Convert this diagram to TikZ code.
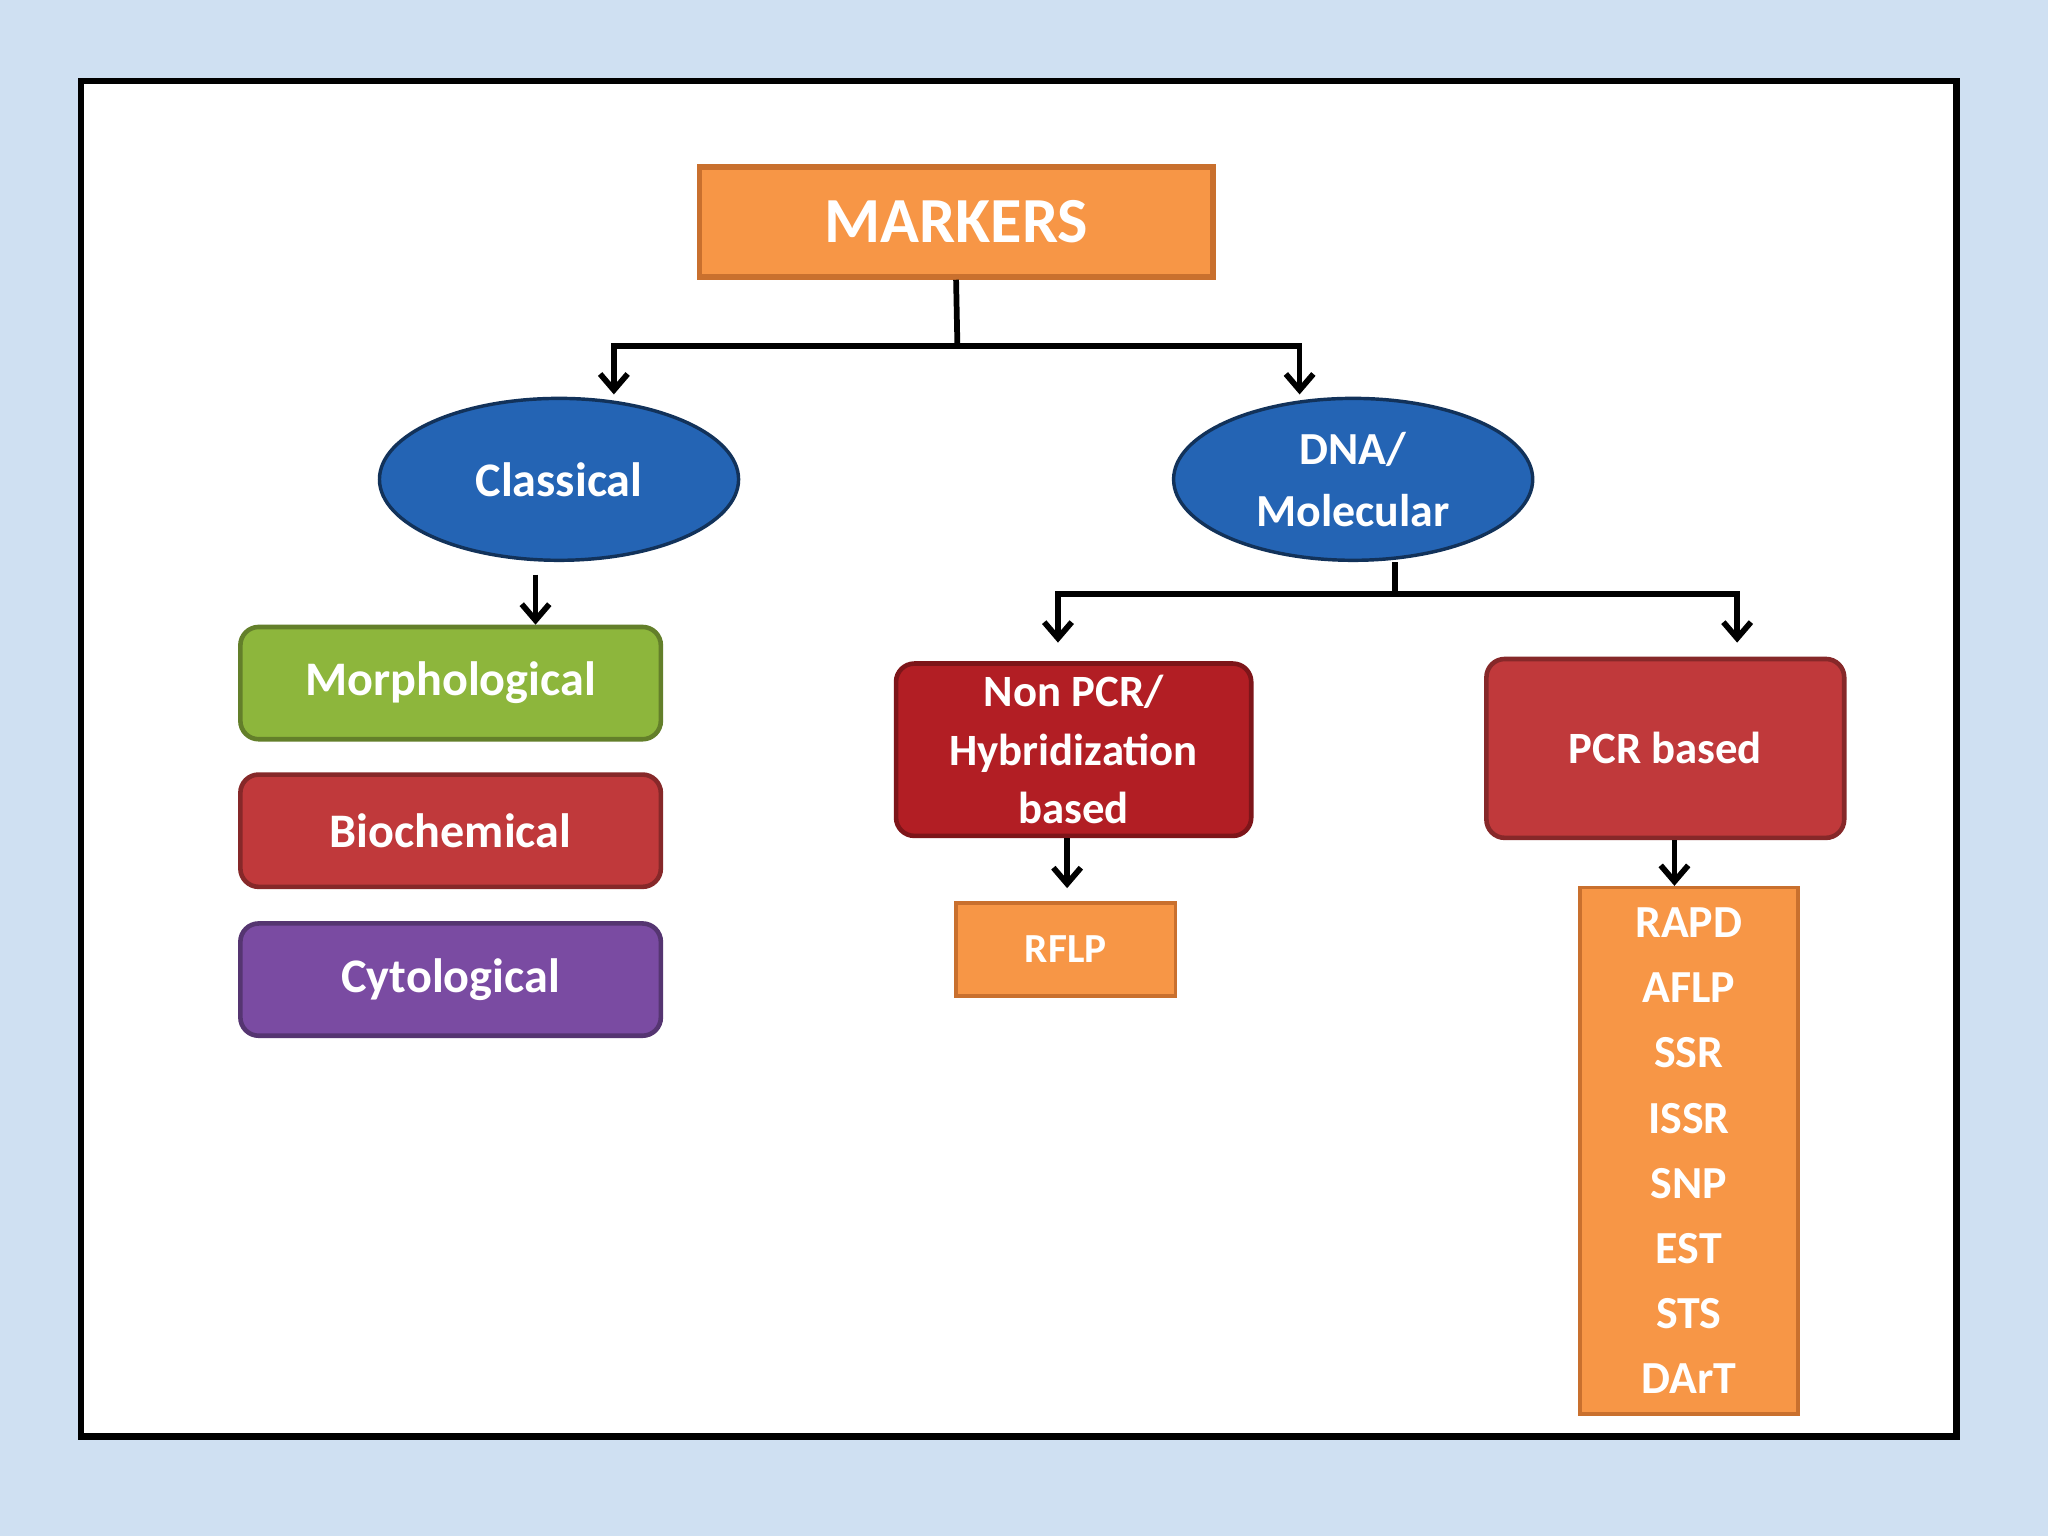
\documentclass[tikz,border=0pt]{standalone}
\usepackage{fontspec}
\setmainfont{Carlito}
\usetikzlibrary{shapes.geometric,arrows.meta}
\definecolor{bgblue}{HTML}{CFE0F2}
\definecolor{org}{HTML}{F79646}
\definecolor{orgd}{HTML}{C9702E}
\definecolor{blu}{HTML}{2464B4}
\definecolor{grn}{HTML}{8DB63C}
\definecolor{rd}{HTML}{C0393B}
\definecolor{rdd}{HTML}{B21E24}
\definecolor{pur}{HTML}{7A4BA2}
\begin{document}
\begin{tikzpicture}[x=0.02cm,y=-0.02cm,
 lbl/.style={text=white,font=\bfseries,inner sep=2pt},
 box/.style={lbl,draw=#1!70!black,line width=2pt,fill=#1,rounded corners=8pt,minimum width=6.44cm,minimum height=1.72cm,font=\bfseries\fontsize{21}{25}\selectfont},
 oval/.style={lbl,ellipse,draw=blu!50!black,line width=1.5pt,fill=blu,minimum width=5.5cm,minimum height=2.48cm,font=\bfseries\fontsize{21}{25}\selectfont,align=center},
 con/.style={line width=2.5pt},
 arr/.style={con,-{Straight Barb[length=7pt,width=12pt,line width=2.5pt]}}]
\useasboundingbox (0,0) rectangle (1568,1176);
\fill[bgblue] (0,0) rectangle (1568,1176);
\draw[line width=3pt,fill=white] (62,62) rectangle (1498,1100);
\node[lbl,draw=orgd,line width=2.5pt,fill=org,minimum width=7.86cm,minimum height=1.68cm,font=\bfseries\fontsize{28}{32}\selectfont] (M) at (732,170) {MARKERS};
\node[oval] (C) at (428,367) {Classical};
\node[oval,font=\bfseries\fontsize{20}{27}\selectfont] (D) at (1036,367) {DNA/\\Molecular};
\node[box=grn] (Mo) at (345,523) {Morphological};
\node[box=rd] (B) at (345,636) {Biochemical};
\node[box=pur] (Cy) at (345,750) {Cytological};
\node[box=rdd,minimum width=5.44cm,minimum height=2.64cm,align=center,font=\bfseries\fontsize{19.5}{25.5}\selectfont] (N) at (822,574) {Non PCR/\\Hybridization\\based};
\node[box=rd,minimum width=5.48cm,minimum height=2.74cm,font=\bfseries\fontsize{19.5}{24}\selectfont] (P) at (1275,573) {PCR based};
\node[lbl,draw=orgd,line width=1.5pt,fill=org,minimum width=3.36cm,minimum height=1.42cm,font=\bfseries\fontsize{18}{22}\selectfont] (R) at (816,727) {RFLP};
\node[lbl,draw=orgd,line width=1.5pt,fill=org,minimum width=3.34cm,minimum height=8.06cm,align=center,font=\bfseries\fontsize{20}{28.4}\selectfont] (L) at (1293,881) {RAPD\\AFLP\\SSR\\ISSR\\SNP\\EST\\STS\\DArT};
\coordinate (j1) at (733,265);
\coordinate (j2) at (1068,455);
\draw[con] (M.south) -- (j1);
\draw[arr] (j1) -| (470,302);
\draw[arr] (j1) -| (995,302);
\draw[arr] (410,440) -- (Mo.north -| 410,0);
\draw[con] (D.south -| j2) -- (j2);
\draw[arr] (j2) -| (810,492);
\draw[arr] (j2) -| (1330,492);
\draw[arr] (N.south -| 817,0) -- (817,680);
\draw[arr] (P.south -| 1282,0) -- (L.north -| 1282,0);
\end{tikzpicture}
\end{document}
